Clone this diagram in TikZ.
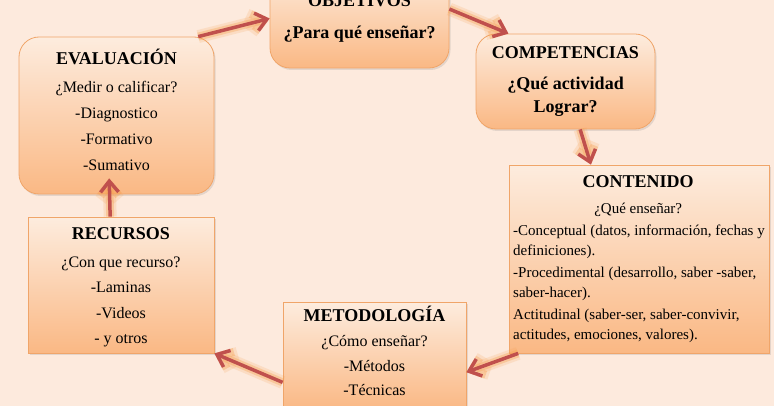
\documentclass[tikz,border=0pt]{standalone}
\usepackage{fontspec}
\setmainfont{Liberation Serif}
\usetikzlibrary{arrows.meta,shadows}

\definecolor{fondo}{RGB}{253,234,221}
\definecolor{rojo}{RGB}{192,80,77}
\definecolor{brillo}{RGB}{247,160,80}
\definecolor{borde}{RGB}{240,165,105}
\definecolor{claro}{RGB}{253,236,222}
\definecolor{naranja}{RGB}{250,184,132}

\newcommand{\titulo}{\fontsize{18}{24}\selectfont\bfseries}
\newcommand{\bajo}[1]{\rule[-#1]{0pt}{0pt}}

\tikzset{
  caja/.style={draw=borde, line width=0.8pt, top color=claro, bottom color=naranja,
    align=center, inner sep=0pt,
    drop shadow={shadow xshift=1.5pt, shadow yshift=-2pt, opacity=0.2}},
  redonda/.style={caja, rounded corners=20pt},
  flecha/.style={draw=rojo, line width=3.5pt, -{Straight Barb[length=11pt,width=18pt]},
    preaction={draw=brillo, line width=13pt, opacity=0.18},
    preaction={draw=brillo, line width=8pt, opacity=0.35}}
}

\begin{document}
\begin{tikzpicture}[x=1pt, y=-1pt]
      % Draw the background
      \path[use as bounding box, fill=fondo] (0,0) rectangle (774,406);
      \clip (0,0) rectangle (774,406);

      % Draw the rounded boxes
      \node[redonda, minimum width=179pt, minimum height=99pt,
        font=\fontsize{18}{24}\selectfont\bfseries] (obj) at (359.5,18.5)
        {OBJETIVOS\\[8pt]¿Para qué enseñar?};
      \node[redonda, minimum width=179pt, minimum height=95pt,
        font=\fontsize{18}{23}\selectfont\bfseries] (comp) at (565.5,81.5)
        {COMPETENCIAS\\[8pt]¿Qué actividad\\Lograr?};
      \node[redonda, minimum width=195pt, minimum height=157pt,
        font=\fontsize{16}{26}\selectfont] (eval) at (116.5,115.5)
        {{\titulo EVALUACIÓN}\\[2pt]¿Medir o calificar?\\-Diagnostico\\-Formativo\\-Sumativo\bajo{11pt}};

      % Draw the square boxes
      \node[caja, minimum width=260pt, minimum height=188pt, align=left,
        font=\fontsize{15}{19.7}\selectfont] (cont) at (639,259)
        {\makebox[250pt]{\titulo CONTENIDO}\\[6pt]
         \makebox[250pt]{¿Qué enseñar?}\\[2.5pt]
         -Conceptual (datos, información, fechas y\\definiciones).\\[2.5pt]
         -Procedimental (desarrollo, saber -saber,\\saber-hacer).\\[2.5pt]
         Actitudinal (saber-ser, saber-convivir,\\actitudes, emociones, valores).};
      \node[caja, minimum width=183pt, minimum height=108pt,
        font=\fontsize{16}{24.5}\selectfont] (met) at (374.5,356)
        {{\titulo METODOLOGÍA}\\[0.5pt]¿Cómo enseñar?\\-Métodos\\-Técnicas\bajo{10pt}};
      \node[caja, minimum width=186pt, minimum height=136pt,
        font=\fontsize{16}{25.5}\selectfont] (rec) at (121,285)
        {{\titulo\rule{0pt}{16pt}RECURSOS}\\[2.5pt]¿Con que recurso?\\-Laminas\\-Videos\\- y otros};

      % Draw the arrows of the cycle
      \draw[flecha] (eval.44) -- (obj.west);
      \draw[flecha] (obj.6) -- (comp.140);
      \draw[flecha] (comp.287) -- (cont.117);
      \draw[flecha] (cont.218) -- (met.350);
      \draw[flecha] (met.196) -- (rec.south east);
      \draw[flecha, shorten >=-16pt] (rec.99) -- (eval.265);
    \end{tikzpicture}
\end{document}
